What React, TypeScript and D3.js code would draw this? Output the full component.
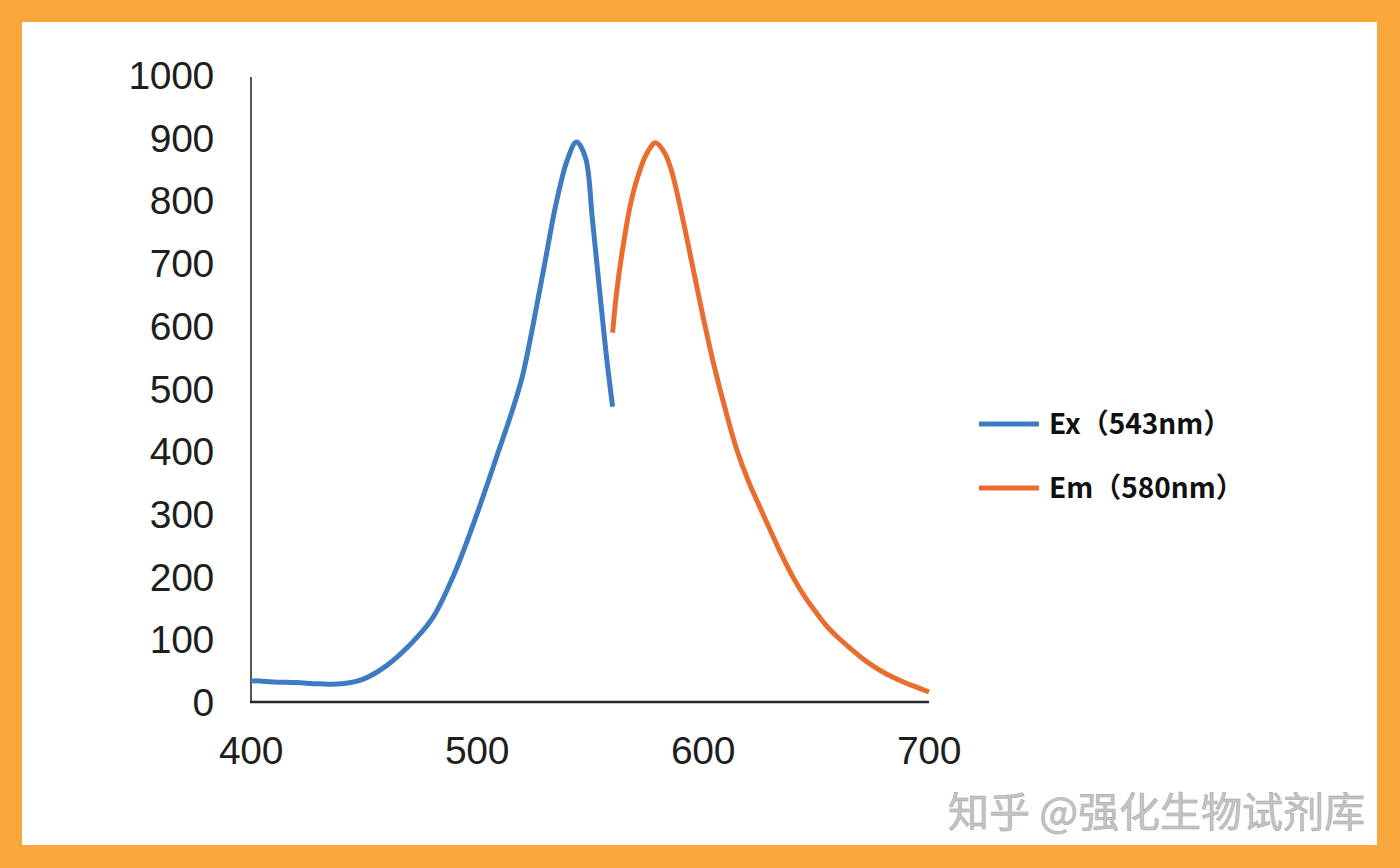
import React from "react";
import * as d3 from "d3";

const exWavelength = [400, 410, 420, 430, 440, 450, 460, 470, 480, 490, 500, 510, 515, 520, 525, 530, 535, 540, 544, 548, 551, 554, 557, 560];
const exIntensity = [34, 32, 31, 29, 29, 37, 58, 90, 132, 205, 300, 405, 458, 518, 605, 700, 795, 865, 893, 868, 772, 665, 560, 471];

const emWavelength = [560, 562, 565, 568, 571, 575, 579, 583, 586, 590, 595, 600, 605, 610, 615, 620, 625, 630, 635, 640, 645, 650, 655, 660, 665, 670, 675, 680, 685, 690, 695, 700];
const emIntensity = [589, 660, 735, 795, 836, 874, 892, 876, 848, 788, 702, 615, 535, 465, 402, 353, 312, 272, 233, 198, 168, 143, 120, 102, 86, 71, 58, 47, 38, 30, 23, 16];

const xTicks = [400, 500, 600, 700];
const yTicks = [0, 100, 200, 300, 400, 500, 600, 700, 800, 900, 1000];

const seriesNames = ["Ex（543nm）", "Em（580nm）"];
const seriesColors = ["#3d7cc3", "#ea6d30"];
const watermark = "知乎 @强化生物试剂库";

export default function App() {
  const W = 1400;
  const H = 868;
  const x = d3.scaleLinear().domain([400, 700]).range([251, 929]);
  const y = d3.scaleLinear().domain([0, 1000]).range([702, 75]);

  const line = d3
    .line<[number, number]>()
    .x((d) => x(d[0]))
    .y((d) => y(d[1]))
    .curve(d3.curveCatmullRom.alpha(0.5));

  const exData: [number, number][] = exWavelength.map((w, i) => [w, exIntensity[i]]);
  const emData: [number, number][] = emWavelength.map((w, i) => [w, emIntensity[i]]);

  const tickFont = "'Liberation Sans', Arial, sans-serif";
  const cjkFont = "'Noto Sans CJK SC', 'Noto Sans', sans-serif";

  return (
    <svg
      width={W}
      height={H}
      style={{ position: "absolute", left: 0, top: 0, display: "block" }}
    >
      <rect x={0} y={0} width={W} height={H} fill="#F9A73B" />
      <rect x={22} y={22} width={1355} height={823} fill="#ffffff" />

      {/* axes */}
      <line x1={251} y1={77} x2={251} y2={703} stroke="#555" strokeWidth={2} />
      <line x1={250} y1={702} x2={929} y2={702} stroke="#2a2a2a" strokeWidth={2.5} />

      {yTicks.map((t) => (
        <text
          key={"y" + t}
          x={214}
          y={y(t)}
          dy="0.36em"
          textAnchor="end"
          fontFamily={tickFont}
          fontSize={39}
          fill="#1e1e1e"
          letterSpacing={-0.3}
        >
          {t}
        </text>
      ))}
      {xTicks.map((t) => (
        <text
          key={"x" + t}
          x={x(t)}
          y={750}
          dy="0.36em"
          textAnchor="middle"
          fontFamily={tickFont}
          fontSize={39}
          fill="#1e1e1e"
          letterSpacing={-0.3}
        >
          {t}
        </text>
      ))}

      {/* curves */}
      <path d={line(exData) || ""} fill="none" stroke={seriesColors[0]} strokeWidth={5} strokeLinecap="butt" strokeLinejoin="round" />
      <path d={line(emData) || ""} fill="none" stroke={seriesColors[1]} strokeWidth={5} strokeLinecap="butt" strokeLinejoin="round" />

      {/* legend */}
      {seriesNames.map((name, i) => (
        <g key={name} transform={`translate(0, ${424 + i * 64})`}>
          <line x1={979} y1={0} x2={1039} y2={0} stroke={seriesColors[i]} strokeWidth={5} />
          <text
            x={1049}
            y={0}
            dy="0.36em"
            fontFamily={cjkFont}
            fontWeight={700}
            fontSize={28}
            fill="#111"
          >
            {name}
          </text>
        </g>
      ))}

      {/* watermark */}
      <text
        x={1365}
        y={812}
        dy="0.36em"
        textAnchor="end"
        fontFamily={cjkFont}
        fontSize={41}
        fill="#c4c4c4"
        stroke="#a8a8a8"
        strokeWidth={0.6}
      >
        {watermark}
      </text>
    </svg>
  );
}
